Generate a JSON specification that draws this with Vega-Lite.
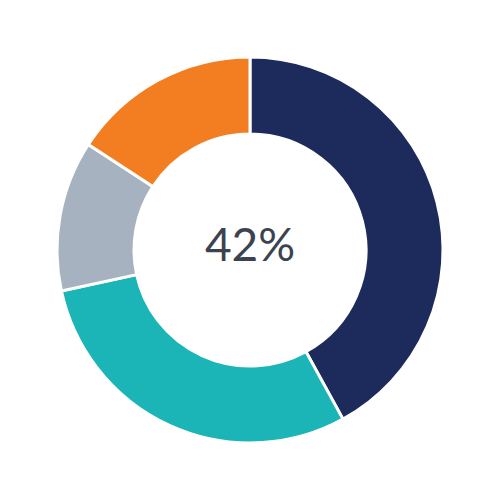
{
  "$schema": "https://vega.github.io/schema/vega-lite/v6.json",
  "width": 500,
  "height": 500,
  "padding": 0,
  "autosize": {"type": "fit", "contains": "padding"},
  "background": "white",
  "config": {"view": {"stroke": null}},
  "data": {
    "values": [
      {"segment": "A", "share": 42, "rank": 1},
      {"segment": "B", "share": 29.6, "rank": 2},
      {"segment": "C", "share": 12.6, "rank": 3},
      {"segment": "D", "share": 15.8, "rank": 4}
    ]
  },
  "layer": [
    {
      "mark": {"type": "arc", "outerRadius": 193, "innerRadius": 116, "stroke": "white", "strokeWidth": 3},
      "encoding": {
        "theta": {"field": "share", "type": "quantitative", "stack": true},
        "order": {"field": "rank", "type": "quantitative"},
        "color": {
          "field": "segment",
          "type": "nominal",
          "legend": null,
          "scale": {"domain": ["A", "B", "C", "D"], "range": ["#1c2b5b", "#1bb4b7", "#a7b2c1", "#f27e21"]}
        }
      }
    },
    {
      "transform": [
        {"filter": "datum.rank == 1"},
        {"calculate": "format(datum.share, 'd') + '%'", "as": "label"}
      ],
      "mark": {"type": "text", "font": "Lato", "fontSize": 46, "color": "#3b4350", "align": "center", "baseline": "middle"},
      "encoding": {
        "text": {"field": "label", "type": "nominal"},
        "x": {"value": 250},
        "y": {"value": 247}
      }
    }
  ]
}
